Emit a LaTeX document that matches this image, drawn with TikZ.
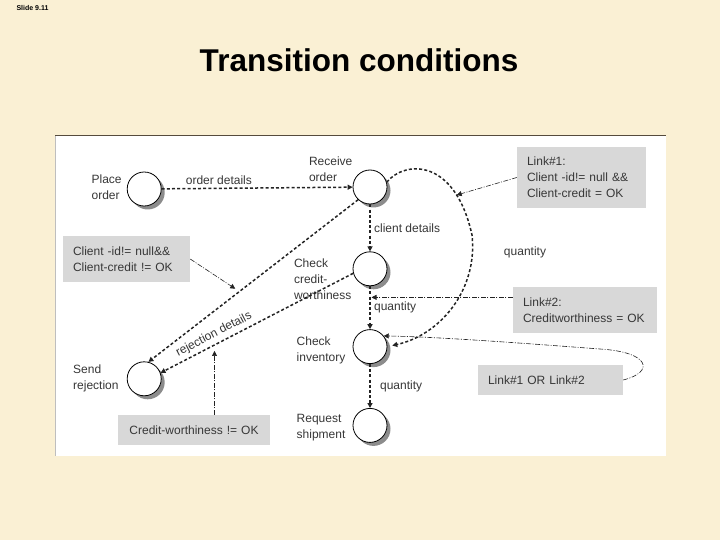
\documentclass[tikz,border=0pt]{standalone}
\usepackage{fontspec}
\setmainfont{Liberation Sans}
\setsansfont{Liberation Sans}
\usepackage{tikz}
\usetikzlibrary{arrows.meta, positioning, calc}
\definecolor{slidebg}{RGB}{250, 240, 212}
\definecolor{inkgray}{RGB}{55, 55, 55}
\definecolor{linegray}{RGB}{35, 35, 35}
\definecolor{boxgray}{RGB}{216, 216, 216}
\definecolor{shadowgray}{RGB}{140, 140, 140}
\definecolor{frametop}{RGB}{85, 75, 60}
\definecolor{frameside}{RGB}{190, 190, 190}
\tikzset{
  font=\sffamily,
  statenode/.style={
    circle, draw=black, fill=white, line width=0.8pt,
    minimum size=34pt, inner sep=0pt,
    preaction={fill=shadowgray, transform canvas={xshift=3.5pt, yshift=-3.5pt}}
  },
  statetext/.style={
    align=left, text=inkgray, inner sep=0pt,
    font=\sffamily\fontsize{12}{16}\selectfont
  },
  edgetext/.style={text=inkgray, font=\sffamily\fontsize{12}{14}\selectfont},
  condbox/.style={
    rectangle, fill=boxgray, text=inkgray, align=left,
    inner xsep=10pt, inner ysep=0pt,
    font=\sffamily\fontsize{12}{16}\selectfont
  },
  flowline/.style={
    draw=linegray, line width=1.5pt, dash pattern=on 3pt off 2.2pt,
    -{Triangle[length=5pt, width=5pt]}
  },
  condline/.style={
    draw=linegray, line width=0.6pt, dash pattern=on 5pt off 1.5pt on 1pt off 1.5pt,
    -{Triangle[length=5pt, width=5pt]}
  }
}

\begin{document}
\begin{tikzpicture}[x=1pt, y=1pt]
  \useasboundingbox (0,0) rectangle (720,-540);
  \fill[slidebg] (0,0) rectangle (720,-540);

  % Slide header
  \node[anchor=west, font=\sffamily\bfseries\fontsize{7}{8}\selectfont] (slideno) at (13,-8) {Slide 9.11};
  \node[font=\sffamily\bfseries\fontsize{31.5}{36}\selectfont] (title) at (359,-60) {Transition conditions};

  % Figure panel
  \fill[white] (55,-136) rectangle (666,-456);
  \draw[frametop, line width=1pt] (55,-136) -- (666,-136);
  \draw[frameside, line width=0.8pt] (55,-136) -- (55,-456);

  % States
  \node[statenode, label={[statetext, anchor=south east, yshift=5pt]left:Receive\\order}] (recv) at (370,-187) {};
  \node[statenode, below=47pt of recv, label={[statetext, label distance=1pt, yshift=-10.6pt]left:Check\\credit-\\worthiness}] (credit) {};
  \node[statenode, below=43pt of credit, label={[statetext, label distance=7pt, yshift=-4pt]left:Check\\inventory}] (inv) {};
  \node[statenode, below=44pt of inv, label={[statetext, label distance=7pt, yshift=-2pt]left:Request\\shipment}] (ship) {};
  \node[statenode, left=191pt of recv, yshift=-2pt, label={[statetext, label distance=5pt, yshift=2pt]left:Place\\order}] (place) {};
  \node[statenode, below=155pt of place, label={[statetext, label distance=8pt]left:Send\\rejection}] (rej) {};

  % Conditions
  \node[condbox, text width=109pt, minimum height=61pt] (link1) at (581.5,-177.5) {Link\#1:\\Client -id!= null \&\&\\Client-credit = OK};
  \node[condbox, text width=107pt, minimum height=46pt] (client) at (126.5,-259) {Client -id!= null\&\&\\Client-credit != OK};
  \node[condbox, text width=124pt, minimum height=46pt] (link2) at (585,-310) {Link\#2:\\Creditworthiness = OK};
  \node[condbox, text width=125pt, minimum height=30pt] (linkor) at (550.5,-380) {Link\#1 OR Link\#2};
  \node[condbox, text width=132pt, align=center, minimum height=30pt] (cwbox) at (194,-430) {Credit-worthiness != OK};

  % Transitions
  \draw[flowline] (place) -- node[edgetext, pos=0.3, above] {order details} (recv);
  \draw[flowline] (recv) -- node[edgetext, right] {client details} (credit);
  \draw[flowline] (credit) -- coordinate[pos=0.26] (c2hit) node[edgetext, right] {quantity} (inv);
  \draw[flowline] (inv) -- node[edgetext, right=6pt] {quantity} (ship);
  \draw[flowline] (recv.227) -- coordinate[pos=0.566] (c5hit) (rej.76);
  \draw[flowline] (credit.195) -- node[edgetext, sloped, above, pos=0.7] {rejection details} coordinate[pos=0.72] (c6hit) (rej.20);
  \draw[flowline, shorten >=5pt] (recv.16) .. controls (405,-160) and (455,-158) .. (472,-235) coordinate[pos=0.78] (l1hit)
    .. controls (478,-290) and (440,-335) .. (inv.east);
  \node[edgetext] (qlabel) at (525,-252) {quantity};

  % Condition links
  \draw[condline] (link1.west) -- (l1hit);
  \draw[condline, shorten >=1.5pt] (link2.west |- c2hit) -- (c2hit);
  \draw[condline] (linkor.east) .. controls (655,-372) and (650,-352) .. (600,-349)
    .. controls (520,-343) and (440,-337) .. (inv.38);
  \draw[condline, shorten >=5pt] (client.east) -- (c5hit);
  \draw[condline, shorten >=6pt] (c6hit |- cwbox.north) -- (c6hit);
\end{tikzpicture}
\end{document}
